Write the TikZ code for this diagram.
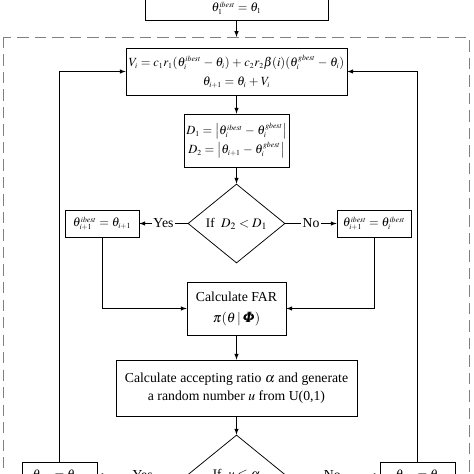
\documentclass[tikz,border=0pt]{standalone}
\usepackage{amsmath}
\usepackage{amssymb}
\usepackage{mathptmx}
\usepackage{bm}
\usepackage[no-math]{fontspec}
\setmainfont{Liberation Serif}
\usepackage{tikz}
\usetikzlibrary{shapes.geometric}

\DeclareMathSizes{10}{10}{6.2}{5}
\DeclareMathSizes{11}{11}{7}{5.5}
\thickmuskip=4mu plus 2mu
\medmuskip=3.5mu plus 1mu minus 2mu

\tikzset{
	box/.style={draw, line width=0.6pt, align=center, inner sep=1pt, font=\fontsize{10}{15}\selectfont},
	textbox/.style={box, font=\fontsize{11}{14.4}\selectfont},
	test/.style={draw, diamond, line width=0.6pt, inner sep=0pt, minimum width=77.6pt, minimum height=63.2pt, font=\fontsize{10.5}{12}\selectfont},
	flow/.style={-latex, line width=0.6pt},
	tag/.style={fill=white, inner sep=1pt, font=\fontsize{11}{12}\selectfont}
}

\begin{document}
\begin{tikzpicture}[x=0.8pt, y=-0.8pt]

	\useasboundingbox (0,0) rectangle (474,474);
	\clip (0,0) rectangle (474,474);

	\coordinate (top) at (236.5,37);
	\draw[gray, line width=0.6pt, dash pattern=on 9pt off 5pt] (3,37) rectangle (469,520);

	\node[box, anchor=south, minimum width=146.4pt, minimum height=36pt] (init) at (236.5,21) {};
	\node[above=1.5pt, font=\fontsize{10}{12}\selectfont] (initeq) at (init.south) {$\theta_1^{ibest}=\theta_1$};
	\node[box, minimum width=176.8pt, minimum height=37.6pt] (vel) at (236.5,71.5)
		{$V_i=c_1r_1(\theta_i^{ibest}-\theta_i)+c_2r_2\beta(i)(\theta_i^{gbest}-\theta_i)$\\ $\theta_{i+1}=\theta_i+V_i$};
	\node[box, minimum width=84pt, minimum height=42.4pt] (dist) at (236.5,140.5)
		{$D_1=\left|\theta_i^{ibest}-\theta_i^{gbest}\right|$\\ $D_2=\left|\theta_{i+1}-\theta_i^{gbest}\right|$};
	\node[test] (cmp1) at (236.5,223.5) {If\ \ $D_2<D_1$};
	\node[box, minimum width=59.2pt, minimum height=21.6pt] (yes1) at (102,223.5) {$\theta_{i+1}^{ibest}=\theta_{i+1}$};
	\node[box, minimum width=59.2pt, minimum height=21.6pt] (no1) at (374,223.5) {$\theta_{i+1}^{ibest}=\theta_i^{ibest}$};
	\node[textbox, minimum width=79.2pt, minimum height=42.4pt, font=\fontsize{11}{16.8}\selectfont] (far) at (236.5,308.5)
		{Calculate FAR\\ $\pi(\theta\,|\,\bm{\varPhi})$};
	\node[textbox, minimum width=192.8pt, minimum height=44.8pt] (acc) at (236.5,388)
		{Calculate accepting ratio $\alpha$ and generate\\ a random number $u$ from U(0,1)};
	\node[test] (cmp2) at (236.5,474.5) {If\ \ $u\le\alpha$};
	\node[box, minimum width=60pt, minimum height=21.6pt] (acpt) at (59.5,475.5) {$\theta_{i+1}=\theta_{i+1}$};
	\node[box, minimum width=60pt, minimum height=21.6pt] (rej) at (417.5,475.5) {$\theta_{i+1}=\theta_i$};

	\draw[flow] (init) -- (top);
	\draw[flow] (vel) -- (dist);
	\draw[flow] (dist) -- (cmp1);
	\draw[flow] (cmp1) -- node[tag] {Yes} (yes1);
	\draw[flow] (cmp1) -- node[tag] {No} (no1);
	\draw[flow] (yes1.south) |- (far.west);
	\draw[flow] (no1.south) |- (far.east);
	\draw[flow] (far) -- (acc);
	\draw[flow] (acc) -- (cmp2);
	\draw[flow] (cmp2) -- node[tag] {Yes} (acpt);
	\draw[flow] (cmp2) -- node[tag] {No} (rej);
	\draw[flow] (acpt.north) |- (vel.west);
	\draw[flow] (rej.north) |- (vel.east);

\end{tikzpicture}
\end{document}
